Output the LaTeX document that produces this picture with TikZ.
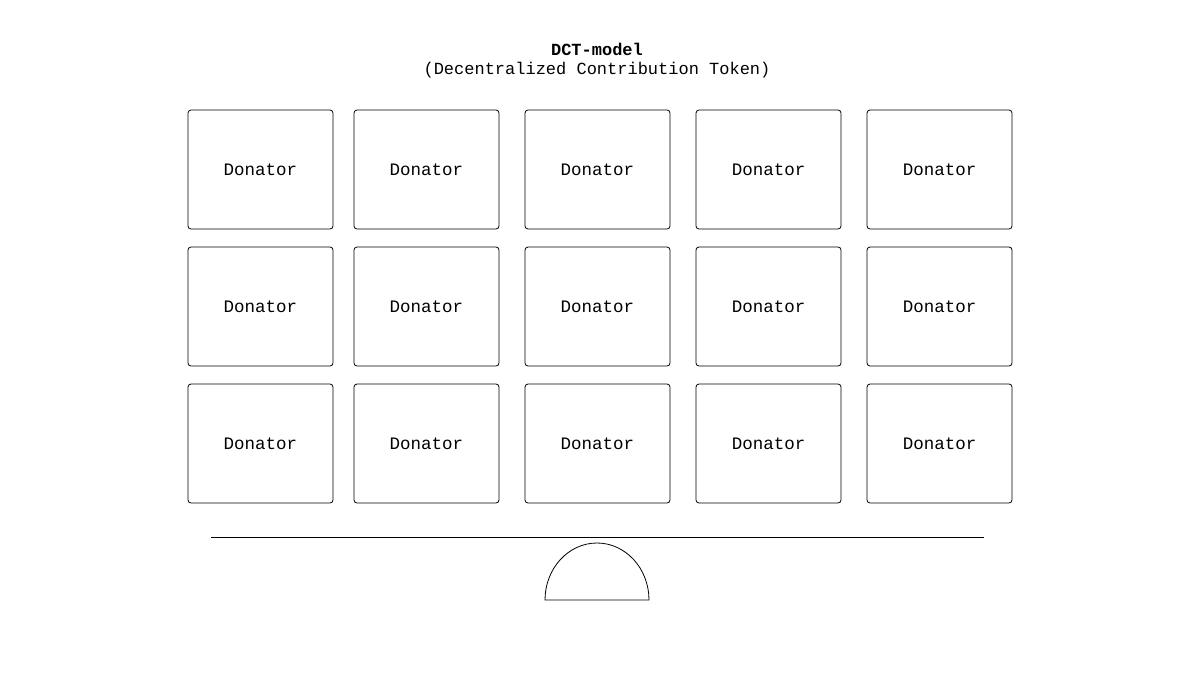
\documentclass[tikz,border=0pt]{standalone}
\usepackage{fontspec}
\setmonofont{Liberation Mono}
\begin{document}
\begin{tikzpicture}[x=1pt,y=-1pt,
  donor/.style={draw,rounded corners=3pt,minimum width=145pt,minimum height=119pt,font=\ttfamily\fontsize{17.5}{20}\selectfont,line width=0.8pt}]
\useasboundingbox (0,0) rectangle (1200,675);
\node[font=\ttfamily\fontsize{17}{19}\selectfont,align=center] (title) at (597,61) {\textbf{DCT-model}\\(Decentralized Contribution Token)};
\foreach \x [count=\i] in {260.5,426.5,597.5,768.5,939.5}{
  \foreach \y [count=\j] in {169.5,306.5,443.5}{
    \node[donor] (d\i\j) at (\x,\y) {Donator};
  }
}
\coordinate (l1) at (211,537);
\coordinate (l2) at (984,537);
\draw[line width=0.8pt] (l1) -- (l2);
\coordinate (f) at (545,600);
\draw[line width=0.8pt] (f) arc[start angle=180,end angle=360,x radius=52,y radius=57] -- cycle;
\end{tikzpicture}
\end{document}
